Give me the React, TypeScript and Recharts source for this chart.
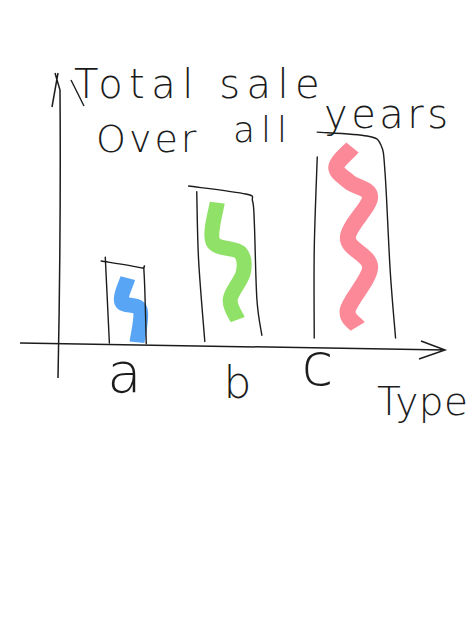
import React from 'react';
import { BarChart, Bar, XAxis, YAxis, Cell } from 'recharts';

const types = ['a', 'b', 'c'];
const totals = [81, 156, 208];
const colors = ['#4a9df5', '#86e05a', '#fc7f8f'];

const INK = '#1c1c1c';
const FONT = '"DejaVu Sans", sans-serif';

// hand-drawn offsets from the even band layout
const shiftX = [0, -12, 0];
const widen = [-17, 4, 19];

// tick label tweaks
const labelShift = [0, -2, -37];
const labelDrop = [41, 47, 34];
const labelSize = [56, 44, 58];

// everything below is in fractions of the bar box
const squiggles = [
  [[0.575, 0.2], [0.425, 0.49], [0.875, 0.59], [0.8, 0.99]],
  [[0.33, 0.1], [0.26, 0.35], [0.7, 0.42], [0.75, 0.55], [0.54, 0.72], [0.66, 0.85]],
  [[0.47, 0.06], [0.26, 0.154], [0.43, 0.226], [0.7, 0.3], [0.41, 0.495], [0.7, 0.635], [0.41, 0.84], [0.54, 0.92]],
];
const strokeWidths = [15, 15, 16];

const leftEdges = [
  [[0.025, -0.06], [0.125, 1]],
  [[0, 0.03], [0.03, 0.47], [0.13, 0.99]],
  [[0.013, 0.106], [-0.026, 0.55], [-0.026, 0.976]],
];
const topRightEdges = [
  [[-0.075, -0.012], [0.88, 0.07], [0.97, 0.13], [1.025, 1.01]],
  [[-0.13, -0.006], [0.79, 0.045], [0.9, 0.09], [0.93, 0.24], [0.97, 0.72], [1.05, 0.95]],
  [[0.013, -0.014], [0.66, 0.005], [0.84, 0.048], [0.895, 0.19], [0.96, 0.65], [1.03, 0.976]],
];

// smooth line through the points (catmull-rom)
function toPath(points: number[][], x: number, y: number, w: number, h: number) {
  const p = points.map(([fx, fy]) => [x + fx * w, y + fy * h]);
  let d = `M${p[0][0]},${p[0][1]}`;
  for (let i = 0; i < p.length - 1; i++) {
    const a = p[Math.max(0, i - 1)];
    const b = p[i];
    const c = p[i + 1];
    const e = p[Math.min(p.length - 1, i + 2)];
    d += ` C${b[0] + (c[0] - a[0]) / 6},${b[1] + (c[1] - a[1]) / 6} ${c[0] - (e[0] - b[0]) / 6},${c[1] - (e[1] - b[1]) / 6} ${c[0]},${c[1]}`;
  }
  return d;
}

function SketchBar(props: any) {
  const { x, y, width, height, index, fill } = props;
  const w = width + widen[index];
  const left = x + shiftX[index] - widen[index] / 2;
  return (
    <g>
      <path
        d={toPath(squiggles[index], left, y, w, height)}
        fill="none"
        stroke={fill}
        strokeWidth={strokeWidths[index]}
        strokeLinejoin="round"
        opacity={0.92}
      />
      <path d={toPath(leftEdges[index], left, y, w, height)} fill="none" stroke={INK} strokeWidth={1.4} strokeLinecap="round" />
      <path d={toPath(topRightEdges[index], left, y, w, height)} fill="none" stroke={INK} strokeWidth={1.4} strokeLinecap="round" />
    </g>
  );
}

function TypeTick(props: any) {
  const { x, y, payload, index } = props;
  return (
    <text
      x={x + labelShift[index]}
      y={y + labelDrop[index]}
      textAnchor="middle"
      fontFamily={FONT}
      fontSize={labelSize[index]}
      fontWeight={200}
      fill={INK}
    >
      {payload.value}
    </text>
  );
}

const data = types.map((type, i) => ({ type, total: totals[i] }));

export default function App() {
  return (
    <div style={{ position: 'relative', width: 474, height: 632, margin: -8, background: '#fff' }}>
      <BarChart
        width={474}
        height={632}
        data={data}
        margin={{ top: 75, right: 62, bottom: 259, left: 67 }}
        barCategoryGap="25%"
      >
        <XAxis dataKey="type" axisLine={false} tickLine={false} tick={<TypeTick />} interval={0} height={30} />
        <YAxis domain={[0, 268]} hide />
        <Bar dataKey="total" isAnimationActive={false} shape={<SketchBar />}>
          {data.map((d, i) => (
            <Cell key={d.type} fill={colors[i]} />
          ))}
        </Bar>
      </BarChart>
      <svg width={474} height={632} style={{ position: 'absolute', left: 0, top: 0, pointerEvents: 'none' }}>
        {/* axes */}
        <path d="M58,378 Q61,230 60,90 L55,73 M58,73 L52,107" fill="none" stroke={INK} strokeWidth={1.5} />
        <path d="M20,343 L445,350 M421,341 L445,350 L419,359" fill="none" stroke={INK} strokeWidth={1.5} />
        <path d="M71,80 L84,106" fill="none" stroke={INK} strokeWidth={1.4} />
        {/* title and axis name */}
        <text fontFamily={FONT} fontWeight={200} fill={INK}>
          <tspan x={74} y={98} fontSize={40} letterSpacing={6.5}>Total sale</tspan>
          <tspan x={96} y={152} fontSize={38} letterSpacing={3}>Over</tspan>
          <tspan x={233} y={142} fontSize={36} letterSpacing={6}>all</tspan>
          <tspan x={324} y={128} fontSize={40} letterSpacing={3.5}>years</tspan>
        </text>
        <text x={377} y={415} fontFamily={FONT} fontWeight={200} fontSize={39} letterSpacing={0.5} fill={INK}>Type</text>
      </svg>
    </div>
  );
}
